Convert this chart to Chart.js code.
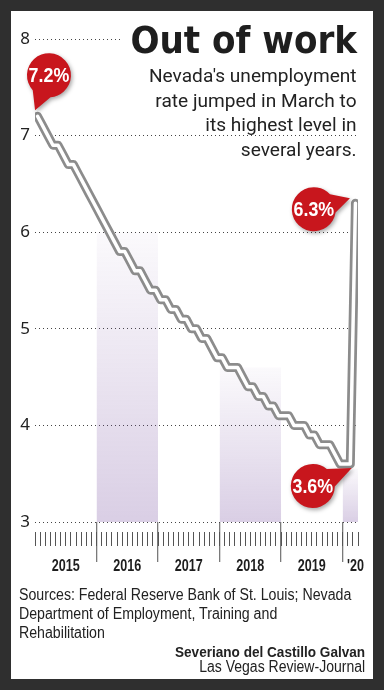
<!DOCTYPE html>
<html>
<head>
<meta charset="utf-8">
<script src="https://cdn.jsdelivr.net/npm/chart.js@4.4.1/dist/chart.umd.min.js"></script>
<style>
  html, body { margin: 0; padding: 0; }
  body { width: 384px; height: 690px; background: #2f2f2f; position: relative; overflow: hidden; }
  #panel { position: absolute; left: 11px; top: 11px; width: 362px; height: 668px; background: #fff; }
  #chart { position: absolute; left: 0; top: 0; }
  .txt { position: absolute; color: #222; white-space: nowrap; }
  #title { right: 27px; top: 21px; font-family: "DejaVu Sans Condensed", "DejaVu Sans"; font-stretch: condensed; font-weight: bold; font-size: 38px; line-height: 38px; background: #fff; padding-left: 8px; padding-bottom: 4px; color: #1e1e1e; }
  #sub { right: 27px; top: 64px; font-family: Roboto, sans-serif; font-size: 19px; line-height: 24.5px; text-align: right; }
  #src { left: 19px; top: 585px; font-family: "Liberation Sans", Arial, sans-serif; font-size: 16px; line-height: 19px; }
  #credit { right: 19px; top: 644px; font-family: "Liberation Sans", Arial, sans-serif; font-size: 16px; line-height: 15px; text-align: right; }
  #credit b { font-size: 15.5px; }
</style>
</head>
<body>
<div id="panel"></div>
<canvas id="chart" width="384" height="690"></canvas>
<div class="txt" id="title">Out of work</div>
<div class="txt" id="sub">Nevada's unemployment<br>rate jumped in March to<br>its highest level in<br>several years.</div>
<div class="txt" id="src">Sources: Federal Reserve Bank of St. Louis; Nevada<br>Department of Employment, Training and<br>Rehabilitation</div>
<div class="txt" id="credit"><b>Severiano del Castillo Galvan</b><br>Las Vegas Review-Journal</div>
<script>
// monthly unemployment rate, Nevada, %
const rate2015 = [7.2, 7.1, 7.0, 6.9, 6.9, 6.8, 6.7, 6.7, 6.6, 6.5, 6.4, 6.3];
const rate2016 = [6.2, 6.1, 6.0, 5.9, 5.8, 5.8, 5.7, 5.6, 5.6, 5.5, 5.4, 5.4];
const rate2017 = [5.3, 5.3, 5.2, 5.2, 5.1, 5.1, 5.0, 5.0, 4.9, 4.9, 4.8, 4.7];
const rate2018 = [4.7, 4.6, 4.6, 4.6, 4.5, 4.4, 4.4, 4.3, 4.3, 4.2, 4.2, 4.1];
const rate2019 = [4.1, 4.1, 4.0, 4.0, 4.0, 3.9, 3.9, 3.8, 3.8, 3.8, 3.7, 3.6];
const rate2020 = [3.6, 3.6, 6.3];

const years = ["2015", "2016", "2017", "2018", "2019", "'20"];
const yearLabelAt = [5.5, 17.5, 29.5, 41.5, 53.5, 62];
const yTicks = [3, 4, 5, 6, 7, 8];

const shadedYears = ["2016", "2018", "'20"];
const shadeTop = [6.0, 4.6, 3.55];

const calloutIndex = [0, 62, 61];

const byYear = [rate2015, rate2016, rate2017, rate2018, rate2019, rate2020];
const rate = [].concat(...byYear);
const points = rate.map((v, i) => ({ x: i, y: v }));

// squeeze text blocks to the condensed widths of the original
function fitWidth(id, target, origin) {
    const el = document.getElementById(id);
    el.style.transformOrigin = origin;
    el.style.transform = "scaleX(" + (target / el.offsetWidth) + ")";
}
fitWidth("src", 332, "left top");
fitWidth("credit", 190, "right top");
fitWidth("sub", 208, "right top");

// year edges in month units (month i sits at x = i)
const yearStart = [];
let m = 0;
byYear.forEach(arr => { yearStart.push(m - 0.5); m += arr.length; });
const xMin = -0.5, xMax = rate.length - 0.5;
const yearBreaks = yearStart.slice(1);

function shade(top) {
    return function (context) {
        const chart = context.chart;
        const area = chart.chartArea;
        if (!area) return "rgba(120,80,160,0.2)";
        const yTop = chart.scales.y.getPixelForValue(top);
        const g = chart.ctx.createLinearGradient(0, yTop, 0, area.bottom);
        g.addColorStop(0, "rgba(120,80,160,0.03)");
        g.addColorStop(1, "rgba(120,80,160,0.28)");
        return g;
    };
}

const bandSets = shadedYears.map((yr, k) => {
    const yi = years.indexOf(yr);
    const s = yearStart[yi];
    const e = s + byYear[yi].length;
    return {
        data: [{ x: s, y: shadeTop[k] }, { x: e, y: shadeTop[k] }],
        fill: "start",
        borderWidth: 0,
        pointRadius: 0,
        backgroundColor: shade(shadeTop[k]),
        order: 3
    };
});

const condensed = (ctx, text, x, y, sx) => {
    ctx.save();
    ctx.translate(x, y);
    ctx.scale(sx, 1);
    ctx.fillText(text, 0, 0);
    ctx.restore();
};

const calloutPlugin = {
    id: "callouts",
    afterDatasetsDraw(chart, args, opts) {
        const ctx = chart.ctx;
        const meta = chart.getDatasetMeta(0);
        opts.items.forEach(c => {
            const pt = meta.data[c.index];
            const cx = pt.x + c.dx, cy = pt.y + c.dy;
            const tx = pt.x + c.tx, ty = pt.y + c.ty;
            const ang = Math.atan2(ty - cy, tx - cx);
            const r = 22;
            ctx.save();
            ctx.shadowColor = "rgba(0,0,0,0.35)";
            ctx.shadowBlur = 4;
            ctx.shadowOffsetX = 1.5;
            ctx.shadowOffsetY = 2;
            ctx.beginPath();
            ctx.arc(cx, cy, r, ang + 0.45, ang - 0.45 + Math.PI * 2);
            ctx.lineTo(tx, ty);
            ctx.closePath();
            ctx.fillStyle = "#c8161d";
            ctx.fill();
            ctx.restore();
            ctx.save();
            ctx.fillStyle = "#fff";
            ctx.font = 'bold 21px "Liberation Sans", Arial, sans-serif';
            ctx.textAlign = "center";
            ctx.textBaseline = "middle";
            condensed(ctx, rate[c.index].toFixed(1) + "%", cx, cy + 1, 0.85);
            ctx.restore();
        });
    }
};

const yearLabelPlugin = {
    id: "yearLabels",
    afterDraw(chart) {
        const ctx = chart.ctx;
        const sc = chart.scales.x2;
        ctx.save();
        ctx.fillStyle = "#1e1e1e";
        ctx.font = 'bold 17px "Liberation Sans", Arial, sans-serif';
        ctx.textAlign = "center";
        ctx.textBaseline = "middle";
        years.forEach((yr, i) => {
            condensed(ctx, yr, sc.getPixelForValue(yearLabelAt[i]), sc.top + 34, 0.74);
        });
        ctx.restore();
    }
};

const ctx = document.getElementById("chart").getContext("2d");
new Chart(ctx, {
    type: "line",
    data: {
        datasets: [
            {
                data: points,
                borderColor: "#ffffff",
                borderWidth: 3.5,
                pointRadius: 0,
                tension: 0,
                borderJoinStyle: "round",
                borderCapStyle: "round",
                order: 0
            },
            {
                data: points,
                borderColor: "#8c8c8c",
                borderWidth: 9,
                pointRadius: 0,
                tension: 0,
                borderJoinStyle: "round",
                borderCapStyle: "round",
                order: 1
            },
            ...bandSets
        ]
    },
    options: {
        responsive: false,
        animation: false,
        devicePixelRatio: 1,
        layout: { padding: { left: 0, top: 39, right: 26, bottom: 108 } },
        plugins: {
            legend: { display: false },
            tooltip: { enabled: false },
            callouts: {
                items: [
                    { index: calloutIndex[0], dx: 11.4, dy: -41, tx: -2.5, ty: -6 },
                    { index: calloutIndex[1], dx: -41.6, dy: 6, tx: -5.5, ty: -5 },
                    { index: calloutIndex[2], dx: -37.5, dy: 22, tx: 1.5, ty: 4 }
                ]
            }
        },
        scales: {
            x: {
                type: "linear",
                min: xMin,
                max: xMax,
                weight: 0,
                afterBuildTicks: s => { s.ticks = yearBreaks.map(v => ({ value: v })); },
                afterFit: s => { s.height = 10; },
                ticks: { display: false },
                grid: { drawOnChartArea: false, drawTicks: true, tickLength: 40, color: "#7a7a7a", lineWidth: 1.3 },
                border: { display: false }
            },
            x2: {
                type: "linear",
                position: "bottom",
                min: xMin,
                max: xMax,
                weight: 1,
                afterBuildTicks: s => {
                    const t = [];
                    for (let v = xMin; v <= xMax + 0.01; v += 1) t.push({ value: v });
                    s.ticks = t;
                },
                afterFit: s => { s.height = 50; },
                ticks: { display: false },
                grid: {
                    drawOnChartArea: false,
                    drawTicks: true,
                    tickLength: 14,
                    lineWidth: 1,
                    color: "#555"
                },
                border: { display: false }
            },
            y: {
                min: yTicks[0],
                max: yTicks[yTicks.length - 1],
                afterBuildTicks: s => { s.ticks = yTicks.map(v => ({ value: v })); },
                afterFit: s => { s.width = 35; },
                ticks: {
                    padding: 5,
                    color: "#222",
                    font: { family: '"Noto Sans", sans-serif', size: 17 }
                },
                grid: { drawTicks: false, color: "#444", lineWidth: 1 },
                border: { display: false, dash: [1, 3] }
            }
        }
    },
    plugins: [calloutPlugin, yearLabelPlugin]
});
</script>
</body>
</html>
